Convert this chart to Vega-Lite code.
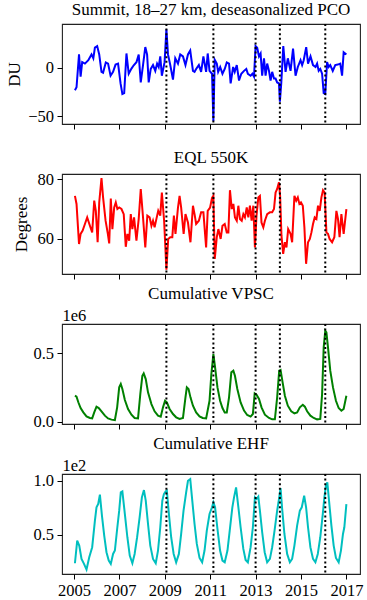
{
"$schema": "https://vega.github.io/schema/vega-lite/v6.json",
"padding": {"left": 5, "top": 0, "right": 0, "bottom": 0},
"spacing": 50,
"bounds": "flush",
"config": {
  "font": "Liberation Serif",
  "view": {"stroke": "#222", "strokeWidth": 1.1},
  "title": {"fontSize": 17, "fontWeight": "normal", "font": "Liberation Serif", "frame": "group", "offset": 4, "anchor": "middle", "color": "black"},
  "axis": {"grid": false, "domain": false, "tickColor": "black", "tickSize": 5, "tickWidth": 1, "labelFontSize": 16.5, "labelColor": "black", "labelPadding": 3.5, "titleFontSize": 17, "titleFontWeight": "normal", "titleColor": "black", "labelFont": "Liberation Serif", "titleFont": "Liberation Serif"}
},
"datasets": {
"ssw": [{"t": 2009.07}, {"t": 2011.14}, {"t": 2013.0}, {"t": 2014.07}, {"t": 2016.07}],
"pco": [
{"t":2005.04,"v":-23},{"t":2005.11,"v":-20},{"t":2005.22,"v":14},{"t":2005.29,"v":-9},{"t":2005.36,"v":6},{"t":2005.48,"v":4.5},{"t":2005.63,"v":8},{"t":2005.77,"v":14},{"t":2005.85,"v":10},{"t":2005.92,"v":21},{"t":2006.02,"v":22.6},{"t":2006.11,"v":14},{"t":2006.21,"v":-4},{"t":2006.28,"v":-5},{"t":2006.40,"v":5.7},{"t":2006.50,"v":4.5},{"t":2006.61,"v":-8},{"t":2006.72,"v":-4},{"t":2006.83,"v":3.5},{"t":2006.94,"v":4.5},{"t":2007.05,"v":-16},{"t":2007.13,"v":-27},{"t":2007.21,"v":-26},{"t":2007.31,"v":15},{"t":2007.41,"v":-6},{"t":2007.53,"v":-0.7},{"t":2007.63,"v":2.8},{"t":2007.75,"v":6},{"t":2007.85,"v":13.8},{"t":2007.94,"v":-15},{"t":2008.04,"v":3},{"t":2008.14,"v":21.6},{"t":2008.22,"v":13.8},{"t":2008.29,"v":-15},{"t":2008.38,"v":-1},{"t":2008.48,"v":3},{"t":2008.58,"v":-3},{"t":2008.66,"v":4.5},{"t":2008.73,"v":1},{"t":2008.80,"v":12},{"t":2008.87,"v":-8},{"t":2008.99,"v":6},{"t":2009.07,"v":40},{"t":2009.14,"v":14},{"t":2009.24,"v":3},{"t":2009.36,"v":-12},{"t":2009.46,"v":10},{"t":2009.58,"v":4.5},{"t":2009.68,"v":14},{"t":2009.80,"v":12},{"t":2009.91,"v":3},{"t":2010.02,"v":14},{"t":2010.12,"v":18},{"t":2010.24,"v":-3},{"t":2010.31,"v":-4},{"t":2010.38,"v":-1},{"t":2010.50,"v":3},{"t":2010.60,"v":-4},{"t":2010.70,"v":12},{"t":2010.82,"v":-4},{"t":2010.89,"v":15},{"t":2010.97,"v":-3},{"t":2011.08,"v":-6},{"t":2011.14,"v":-55},
{"t":2011.20,"v":8.5},{"t":2011.29,"v":4.5},{"t":2011.35,"v":-4},{"t":2011.44,"v":1},{"t":2011.54,"v":-6},{"t":2011.64,"v":-1},{"t":2011.73,"v":5.7},{"t":2011.83,"v":4.5},{"t":2011.90,"v":-16},{"t":2012.01,"v":1},{"t":2012.08,"v":-4},{"t":2012.17,"v":3},{"t":2012.27,"v":-13},{"t":2012.37,"v":-6},{"t":2012.49,"v":-3},{"t":2012.59,"v":-1},{"t":2012.66,"v":-6},{"t":2012.78,"v":-8},{"t":2012.86,"v":-6},{"t":2012.93,"v":-9},{"t":2013.00,"v":22.6},{"t":2013.07,"v":21},{"t":2013.15,"v":12},{"t":2013.22,"v":15},{"t":2013.29,"v":-8},{"t":2013.37,"v":10},{"t":2013.44,"v":-8},{"t":2013.51,"v":4.5},{"t":2013.59,"v":-3},{"t":2013.66,"v":-13},{"t":2013.73,"v":-4},{"t":2013.81,"v":-11},{"t":2013.88,"v":-11},{"t":2013.95,"v":-15},{"t":2014.03,"v":-16},{"t":2014.07,"v":-35},{"t":2014.13,"v":-16},{"t":2014.22,"v":22.6},{"t":2014.32,"v":-4},{"t":2014.42,"v":10},{"t":2014.54,"v":-3},{"t":2014.65,"v":20},{"t":2014.76,"v":-8},{"t":2014.86,"v":1},{"t":2014.98,"v":8},{"t":2015.05,"v":3},{"t":2015.12,"v":8},{"t":2015.23,"v":21.6},{"t":2015.31,"v":4.5},{"t":2015.42,"v":12},{"t":2015.53,"v":3},{"t":2015.64,"v":1},{"t":2015.71,"v":4.5},{"t":2015.78,"v":-3},{"t":2015.85,"v":-1},{"t":2015.93,"v":-6},{"t":2016.00,"v":-26},{"t":2016.07,"v":-27},{"t":2016.15,"v":6},{"t":2016.22,"v":1},{"t":2016.29,"v":3},{"t":2016.40,"v":-3},{"t":2016.51,"v":3},{"t":2016.62,"v":3.5},{"t":2016.73,"v":4.5},{"t":2016.81,"v":-8},{"t":2016.88,"v":16.3},{"t":2017.00,"v":14}
],
"eql": [
{"t":2005.04,"v":74.4},{"t":2005.11,"v":71.7},{"t":2005.22,"v":58.3},{"t":2005.29,"v":61.7},{"t":2005.38,"v":62.8},{"t":2005.48,"v":65},{"t":2005.58,"v":67.2},{"t":2005.70,"v":64.4},{"t":2005.80,"v":62.2},{"t":2005.89,"v":72.8},{"t":2005.96,"v":69.4},{"t":2006.04,"v":58.9},{"t":2006.11,"v":72.2},{"t":2006.21,"v":80.3},{"t":2006.28,"v":73.9},{"t":2006.39,"v":66.1},{"t":2006.49,"v":61.7},{"t":2006.55,"v":58.5},{"t":2006.62,"v":73.5},{"t":2006.69,"v":63.3},{"t":2006.77,"v":70.5},{"t":2006.84,"v":72.2},{"t":2006.91,"v":70},{"t":2006.99,"v":70.5},{"t":2007.09,"v":70},{"t":2007.19,"v":68.3},{"t":2007.28,"v":57.4},{"t":2007.35,"v":61.7},{"t":2007.43,"v":59.4},{"t":2007.50,"v":68.3},{"t":2007.57,"v":63.3},{"t":2007.645,"v":67.2},{"t":2007.75,"v":59.4},{"t":2007.85,"v":66.7},{"t":2007.94,"v":76.7},{"t":2008.04,"v":67.2},{"t":2008.14,"v":57.2},{"t":2008.23,"v":67.8},{"t":2008.33,"v":67.2},{"t":2008.41,"v":64.4},{"t":2008.48,"v":66.1},{"t":2008.55,"v":63.9},{"t":2008.63,"v":66.7},{"t":2008.71,"v":69.4},{"t":2008.80,"v":67.8},{"t":2008.87,"v":75.5},{"t":2008.97,"v":66},{"t":2009.07,"v":49.7},{"t":2009.15,"v":60},{"t":2009.24,"v":60.6},{"t":2009.33,"v":60.6},{"t":2009.40,"v":67.8},{"t":2009.47,"v":61.7},{"t":2009.58,"v":70.5},{"t":2009.65,"v":74.4},{"t":2009.72,"v":70.5},{"t":2009.83,"v":61.7},{"t":2009.91,"v":68.3},{"t":2010.02,"v":65.5},{"t":2010.13,"v":58.9},{"t":2010.24,"v":71.1},{"t":2010.31,"v":68.3},{"t":2010.38,"v":65},{"t":2010.50,"v":66.1},{"t":2010.60,"v":68.9},{"t":2010.70,"v":68.9},{"t":2010.82,"v":57.2},{"t":2010.89,"v":69.4},{"t":2010.995,"v":70.5},{"t":2011.08,"v":73.7},
{"t":2011.14,"v":74.4},{"t":2011.20,"v":53.3},{"t":2011.29,"v":60.6},{"t":2011.36,"v":63.3},{"t":2011.46,"v":60},{"t":2011.54,"v":64.4},{"t":2011.64,"v":65},{"t":2011.73,"v":62.2},{"t":2011.80,"v":62.2},{"t":2011.87,"v":76.3},{"t":2011.95,"v":70},{"t":2012.02,"v":71.7},{"t":2012.09,"v":67.2},{"t":2012.17,"v":66.1},{"t":2012.24,"v":71.1},{"t":2012.31,"v":66.7},{"t":2012.39,"v":66.1},{"t":2012.46,"v":68.3},{"t":2012.53,"v":67.2},{"t":2012.61,"v":70.5},{"t":2012.68,"v":67.2},{"t":2012.75,"v":71.1},{"t":2012.825,"v":66.1},{"t":2012.90,"v":71.1},{"t":2012.97,"v":57.2},{"t":2013.04,"v":67.8},{"t":2013.12,"v":73.9},{"t":2013.19,"v":74.4},{"t":2013.26,"v":65.5},{"t":2013.34,"v":63.9},{"t":2013.41,"v":66.1},{"t":2013.51,"v":68.3},{"t":2013.63,"v":68.9},{"t":2013.73,"v":68.9},{"t":2013.81,"v":70},{"t":2013.88,"v":75.5},{"t":2013.95,"v":76.7},{"t":2014.03,"v":78.9},{"t":2014.08,"v":74.4},{"t":2014.14,"v":61.1},{"t":2014.215,"v":55},{"t":2014.29,"v":58.9},{"t":2014.36,"v":57.2},{"t":2014.435,"v":63.3},{"t":2014.54,"v":61.7},{"t":2014.61,"v":58.9},{"t":2014.71,"v":74.4},{"t":2014.79,"v":72.8},{"t":2014.86,"v":73.9},{"t":2014.93,"v":71.7},{"t":2015.00,"v":72.2},{"t":2015.08,"v":71.1},{"t":2015.15,"v":63.9},{"t":2015.225,"v":51.7},{"t":2015.31,"v":58.9},{"t":2015.39,"v":60},{"t":2015.46,"v":62.2},{"t":2015.53,"v":65},{"t":2015.605,"v":67.2},{"t":2015.68,"v":66.7},{"t":2015.75,"v":71.1},{"t":2015.825,"v":69.4},{"t":2015.90,"v":73.9},{"t":2015.97,"v":76.3},{"t":2016.04,"v":75.5},{"t":2016.12,"v":62.2},{"t":2016.19,"v":61.7},{"t":2016.26,"v":60},{"t":2016.37,"v":58.9},{"t":2016.47,"v":60.6},{"t":2016.56,"v":69.4},{"t":2016.63,"v":66.7},{"t":2016.70,"v":60.6},{"t":2016.78,"v":68.3},{"t":2016.88,"v":61.7},{"t":2017.00,"v":70}
],
"vpsc": [
{"t":2005.04,"v":0.19},{"t":2005.11,"v":0.183},{"t":2005.19,"v":0.142},{"t":2005.29,"v":0.10},{"t":2005.41,"v":0.068},{"t":2005.55,"v":0.039},{"t":2005.70,"v":0.027},{"t":2005.80,"v":0.024},{"t":2005.89,"v":0.068},{"t":2005.99,"v":0.110},{"t":2006.09,"v":0.10},{"t":2006.21,"v":0.076},{"t":2006.36,"v":0.044},{"t":2006.50,"v":0.024},{"t":2006.65,"v":0.015},{"t":2006.80,"v":0.012},{"t":2006.90,"v":0.105},{"t":2006.99,"v":0.251},{"t":2007.06,"v":0.276},{"t":2007.13,"v":0.239},{"t":2007.24,"v":0.158},{"t":2007.38,"v":0.093},{"t":2007.53,"v":0.051},{"t":2007.67,"v":0.027},{"t":2007.82,"v":0.024},{"t":2007.92,"v":0.202},{"t":2008.01,"v":0.336},{"t":2008.07,"v":0.353},{"t":2008.16,"v":0.312},{"t":2008.26,"v":0.215},{"t":2008.41,"v":0.129},{"t":2008.55,"v":0.076},{"t":2008.70,"v":0.044},{"t":2008.82,"v":0.037},{"t":2008.92,"v":0.105},{"t":2009.01,"v":0.153},{"t":2009.09,"v":0.141},{"t":2009.21,"v":0.093},{"t":2009.36,"v":0.056},{"t":2009.50,"v":0.032},{"t":2009.65,"v":0.02},{"t":2009.80,"v":0.027},{"t":2009.91,"v":0.178},{"t":2009.97,"v":0.251},{"t":2010.045,"v":0.239},{"t":2010.13,"v":0.178},{"t":2010.24,"v":0.117},{"t":2010.38,"v":0.068},{"t":2010.53,"v":0.039},{"t":2010.67,"v":0.027},{"t":2010.82,"v":0.024},{"t":2010.97,"v":0.153},{"t":2011.05,"v":0.348},
{"t":2011.14,"v":0.495},{"t":2011.215,"v":0.398},{"t":2011.32,"v":0.251},{"t":2011.435,"v":0.153},{"t":2011.54,"v":0.10},{"t":2011.64,"v":0.068},{"t":2011.73,"v":0.068},{"t":2011.83,"v":0.178},{"t":2011.93,"v":0.361},{"t":2012.02,"v":0.373},{"t":2012.09,"v":0.336},{"t":2012.195,"v":0.239},{"t":2012.34,"v":0.141},{"t":2012.49,"v":0.081},{"t":2012.63,"v":0.049},{"t":2012.78,"v":0.037},{"t":2012.88,"v":0.056},{"t":2012.96,"v":0.207},{"t":2013.04,"v":0.197},{"t":2013.15,"v":0.166},{"t":2013.26,"v":0.105},{"t":2013.41,"v":0.051},{"t":2013.59,"v":0.027},{"t":2013.73,"v":0.017},{"t":2013.85,"v":0.017},{"t":2013.95,"v":0.178},{"t":2014.04,"v":0.373},{"t":2014.10,"v":0.378},{"t":2014.19,"v":0.288},{"t":2014.29,"v":0.19},{"t":2014.42,"v":0.117},{"t":2014.57,"v":0.076},{"t":2014.71,"v":0.061},{"t":2014.83,"v":0.068},{"t":2014.95,"v":0.105},{"t":2015.08,"v":0.124},{"t":2015.17,"v":0.11},{"t":2015.27,"v":0.076},{"t":2015.415,"v":0.044},{"t":2015.56,"v":0.027},{"t":2015.71,"v":0.017},{"t":2015.85,"v":0.02},{"t":2015.93,"v":0.202},{"t":2016.00,"v":0.544},{"t":2016.07,"v":0.666},{"t":2016.12,"v":0.654},{"t":2016.19,"v":0.544},{"t":2016.29,"v":0.373},{"t":2016.41,"v":0.251},{"t":2016.54,"v":0.153},{"t":2016.66,"v":0.10},{"t":2016.78,"v":0.081},{"t":2016.88,"v":0.093},{"t":2017.00,"v":0.19}
],
"ehf": [
{"t":2005.04,"v":0.239},{"t":2005.14,"v":0.448},{"t":2005.23,"v":0.402},{"t":2005.33,"v":0.279},{"t":2005.44,"v":0.233},{"t":2005.55,"v":0.181},{"t":2005.67,"v":0.295},{"t":2005.80,"v":0.387},{"t":2005.92,"v":0.632},{"t":2005.99,"v":0.755},{"t":2006.065,"v":0.785},{"t":2006.14,"v":0.871},{"t":2006.23,"v":0.678},{"t":2006.33,"v":0.494},{"t":2006.43,"v":0.341},{"t":2006.53,"v":0.264},{"t":2006.62,"v":0.233},{"t":2006.72,"v":0.325},{"t":2006.80,"v":0.356},{"t":2006.90,"v":0.555},{"t":2006.99,"v":0.724},{"t":2007.06,"v":0.893},{"t":2007.13,"v":0.902},{"t":2007.24,"v":0.693},{"t":2007.35,"v":0.479},{"t":2007.455,"v":0.31},{"t":2007.57,"v":0.239},{"t":2007.67,"v":0.325},{"t":2007.78,"v":0.479},{"t":2007.89,"v":0.663},{"t":2007.99,"v":0.847},{"t":2008.08,"v":0.914},{"t":2008.16,"v":0.816},{"t":2008.26,"v":0.601},{"t":2008.36,"v":0.402},{"t":2008.48,"v":0.279},{"t":2008.60,"v":0.239},{"t":2008.70,"v":0.356},{"t":2008.80,"v":0.571},{"t":2008.89,"v":0.816},{"t":2008.96,"v":0.877},{"t":2009.04,"v":0.902},{"t":2009.09,"v":0.908},{"t":2009.18,"v":0.693},{"t":2009.28,"v":0.479},{"t":2009.39,"v":0.325},{"t":2009.50,"v":0.248},{"t":2009.62,"v":0.325},{"t":2009.72,"v":0.509},{"t":2009.825,"v":0.724},{"t":2009.94,"v":0.893},{"t":2010.02,"v":1.0},{"t":2010.12,"v":1.015},{"t":2010.21,"v":0.816},{"t":2010.31,"v":0.601},{"t":2010.41,"v":0.417},{"t":2010.53,"v":0.288},{"t":2010.645,"v":0.248},{"t":2010.75,"v":0.356},{"t":2010.85,"v":0.54},{"t":2010.97,"v":0.693},{"t":2011.08,"v":0.755},
{"t":2011.14,"v":0.801},{"t":2011.215,"v":0.755},{"t":2011.32,"v":0.555},{"t":2011.435,"v":0.356},{"t":2011.54,"v":0.264},{"t":2011.64,"v":0.248},{"t":2011.76,"v":0.356},{"t":2011.86,"v":0.54},{"t":2011.976,"v":0.755},{"t":2012.05,"v":0.847},{"t":2012.14,"v":0.939},{"t":2012.225,"v":0.785},{"t":2012.34,"v":0.571},{"t":2012.46,"v":0.371},{"t":2012.56,"v":0.27},{"t":2012.66,"v":0.248},{"t":2012.78,"v":0.387},{"t":2012.88,"v":0.571},{"t":2012.97,"v":0.847},{"t":2013.04,"v":0.831},{"t":2013.12,"v":0.853},{"t":2013.19,"v":0.724},{"t":2013.29,"v":0.525},{"t":2013.40,"v":0.341},{"t":2013.51,"v":0.248},{"t":2013.63,"v":0.279},{"t":2013.73,"v":0.387},{"t":2013.835,"v":0.54},{"t":2013.95,"v":0.724},{"t":2014.03,"v":0.831},{"t":2014.10,"v":0.932},{"t":2014.17,"v":0.74},{"t":2014.27,"v":0.509},{"t":2014.39,"v":0.325},{"t":2014.51,"v":0.248},{"t":2014.61,"v":0.279},{"t":2014.71,"v":0.402},{"t":2014.83,"v":0.586},{"t":2014.95,"v":0.724},{"t":2015.035,"v":0.755},{"t":2015.14,"v":0.862},{"t":2015.225,"v":0.755},{"t":2015.31,"v":0.571},{"t":2015.415,"v":0.387},{"t":2015.53,"v":0.279},{"t":2015.635,"v":0.248},{"t":2015.74,"v":0.325},{"t":2015.85,"v":0.479},{"t":2015.96,"v":0.693},{"t":2016.03,"v":0.847},{"t":2016.10,"v":0.954},{"t":2016.16,"v":0.985},{"t":2016.235,"v":0.816},{"t":2016.34,"v":0.586},{"t":2016.44,"v":0.402},{"t":2016.54,"v":0.288},{"t":2016.66,"v":0.248},{"t":2016.76,"v":0.356},{"t":2016.85,"v":0.509},{"t":2016.91,"v":0.571},{"t":2017.00,"v":0.785}
]
},
"vconcat": [
{
 "width": 298, "height": 100,
 "title": "Summit, 18–27 km, deseasonalized PCO",
 "layer": [
  {"data": {"name": "pco"}, "mark": {"type": "line", "color": "#0000ff", "strokeWidth": 2, "clip": true},
   "encoding": {
    "x": {"field": "t", "type": "quantitative", "scale": {"domain": [2004.47, 2017.6], "nice": false, "zero": false}, "axis": {"values": [2005, 2007, 2009, 2011, 2013, 2015, 2017], "labels": false, "title": null}},
    "y": {"field": "v", "type": "quantitative", "scale": {"domain": [-58, 45.5], "nice": false, "zero": false}, "axis": {"values": [-50, 0], "format": "d", "title": "DU", "titlePadding": 4}}
   }},
  {"data": {"name": "ssw"}, "mark": {"type": "rule", "color": "black", "strokeWidth": 2, "strokeDash": [2, 2.6]},
   "encoding": {"x": {"field": "t", "type": "quantitative"}}}
 ]
},
{
 "width": 298, "height": 100,
 "title": "EQL 550K",
 "layer": [
  {"data": {"name": "eql"}, "mark": {"type": "line", "color": "#ff0000", "strokeWidth": 2, "clip": true},
   "encoding": {
    "x": {"field": "t", "type": "quantitative", "scale": {"domain": [2004.47, 2017.6], "nice": false, "zero": false}, "axis": {"values": [2005, 2007, 2009, 2011, 2013, 2015, 2017], "labels": false, "title": null}},
    "y": {"field": "v", "type": "quantitative", "scale": {"domain": [48.3, 81.7], "nice": false, "zero": false}, "axis": {"values": [60, 80], "format": "d", "title": "Degrees", "titlePadding": 7}}
   }},
  {"data": {"name": "ssw"}, "mark": {"type": "rule", "color": "black", "strokeWidth": 2, "strokeDash": [2, 2.6]},
   "encoding": {"x": {"field": "t", "type": "quantitative"}}}
 ]
},
{
 "width": 298, "height": 100,
 "title": "Cumulative VPSC",
 "layer": [
  {"data": {"name": "vpsc"}, "mark": {"type": "line", "color": "#008000", "strokeWidth": 2, "clip": true},
   "encoding": {
    "x": {"field": "t", "type": "quantitative", "scale": {"domain": [2004.47, 2017.6], "nice": false, "zero": false}, "axis": {"values": [2005, 2007, 2009, 2011, 2013, 2015, 2017], "labels": false, "title": null}},
    "y": {"field": "v", "type": "quantitative", "scale": {"domain": [-0.017, 0.715], "nice": false, "zero": false}, "axis": {"values": [0, 0.5], "format": ".1f", "title": "1e6", "titleAngle": 0, "titleX": 0, "titleY": -4, "titleAlign": "left", "titleBaseline": "alphabetic", "titleFontSize": 16.5}}
   }},
  {"data": {"name": "ssw"}, "mark": {"type": "rule", "color": "black", "strokeWidth": 2, "strokeDash": [2, 2.6]},
   "encoding": {"x": {"field": "t", "type": "quantitative"}}}
 ]
},
{
 "width": 298, "height": 100,
 "title": "Cumulative EHF",
 "layer": [
  {"data": {"name": "ehf"}, "mark": {"type": "line", "color": "#00bfbf", "strokeWidth": 2, "clip": true},
   "encoding": {
    "x": {"field": "t", "type": "quantitative", "scale": {"domain": [2004.47, 2017.6], "nice": false, "zero": false}, "axis": {"values": [2005, 2007, 2009, 2011, 2013, 2015, 2017], "format": "d", "title": null}},
    "y": {"field": "v", "type": "quantitative", "scale": {"domain": [0.14, 1.062], "nice": false, "zero": false}, "axis": {"values": [0.5, 1.0], "format": ".1f", "title": "1e2", "titleAngle": 0, "titleX": 0, "titleY": -4, "titleAlign": "left", "titleBaseline": "alphabetic", "titleFontSize": 16.5}}
   }},
  {"data": {"name": "ssw"}, "mark": {"type": "rule", "color": "black", "strokeWidth": 2, "strokeDash": [2, 2.6]},
   "encoding": {"x": {"field": "t", "type": "quantitative"}}}
 ]
}
]
}
